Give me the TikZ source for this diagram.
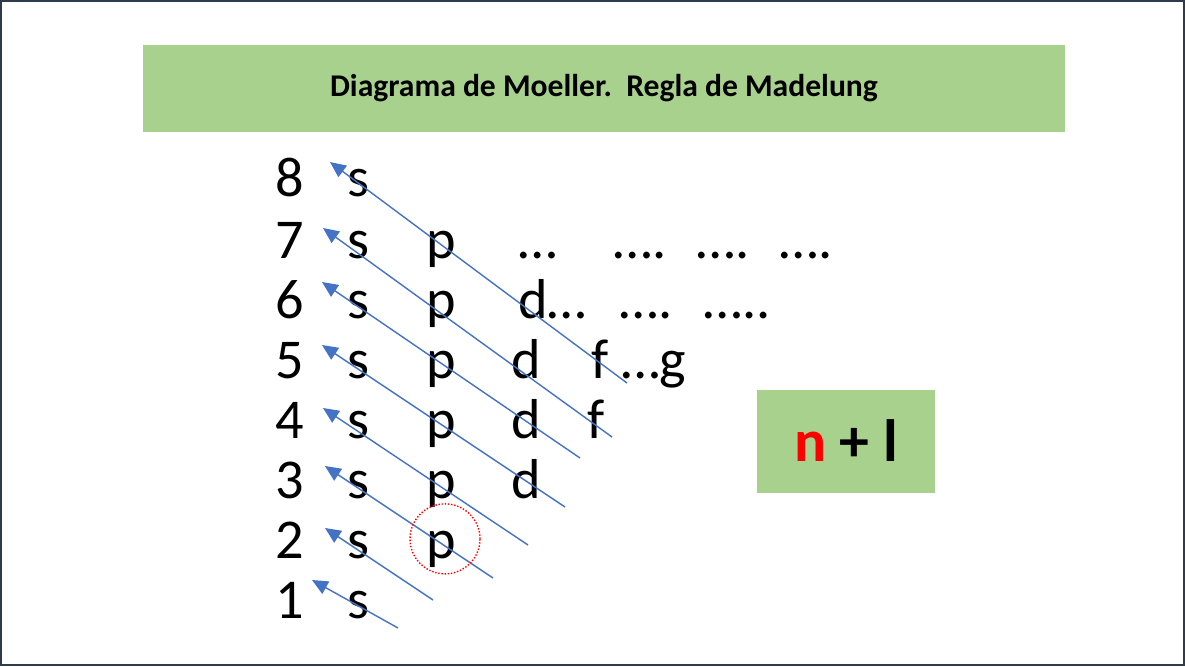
\documentclass[tikz,border=0pt]{standalone}
\usepackage{fontspec}
\setmainfont{Carlito}
\usetikzlibrary{arrows.meta}
\definecolor{boxgreen}{HTML}{A9D18E}
\definecolor{arrowblue}{HTML}{4472C4}
\definecolor{framecol}{HTML}{2F3B4C}
\begin{document}
\begin{tikzpicture}[x=0.02cm,y=-0.02cm,
  lvl/.style={font=\fontsize{32}{32}\selectfont,anchor=base},
  orb/.style={font=\fontsize{32}{32}\selectfont,anchor=base},
  diag/.style={arrowblue,thick,-{Triangle[length=9pt,width=8pt]}}]
  \draw[framecol,line width=1pt] (1,1) rectangle (1184,665);
  \useasboundingbox (0,0) rectangle (1185,666);
  \node[fill=boxgreen,minimum width=922*0.02cm,minimum height=87*0.02cm] (title) at (604,88.5)
    {\fontsize{18}{18}\selectfont\bfseries Diagrama de Moeller.\ \ Regla de Madelung};
  \node[fill=boxgreen,minimum width=178*0.02cm,minimum height=103*0.02cm] (rule) at (846,441)
    {\fontsize{34}{34}\selectfont\bfseries\textcolor{red}{n} + l};
  % shells
  \foreach \n/\y in {8/196,7/258,6/318,5/378,4/438,3/498,2/558,1/618}
    \node[lvl] (n\n) at (290,\y) {\n};
  \foreach \n/\y in {8/196,7/258,6/318,5/378,4/438,3/498,2/558,1/618}
    \node[orb] (s\n) at (358,\y) {s};
  \foreach \n/\y in {7/258,6/318,5/378,4/438,3/498,2/558}
    \node[orb] (p\n) at (441,\y) {p};
  \foreach \n/\y in {5/378,4/438,3/498}
    \node[orb] (d\n) at (526,\y) {d};
  \node[orb] (f4) at (596,438) {f};
  \node[orb,anchor=base west] (f5) at (585,378) {f …g};
  \node[orb,anchor=base west] (d6) at (512,318) {d…};
  \node[orb,anchor=base west] (e6a) at (613,318) {….};
  \node[orb,anchor=base west] (e6b) at (697,318) {…..};
  \node[orb,anchor=base west] (e7a) at (512,258) {…};
  \node[orb,anchor=base west] (e7b) at (607,258) {….};
  \node[orb,anchor=base west] (e7c) at (690,258) {….};
  \node[orb,anchor=base west] (e7d) at (773,258) {….};
  % diagonals
  \foreach \i/\xa/\ya/\xb/\yb in {1/398/628/312/580,2/433/600/325/528,3/493/578/325/466,
      4/528/545/323/408,5/565/507/322/345,6/580/458/322/282,7/612/437/323/228,8/627/383/330/162} {
    \coordinate (a\i) at (\xa,\ya);
    \coordinate (b\i) at (\xb,\yb);
    \draw[diag] (a\i) -- (b\i);
  }
  \draw[red,densely dotted,thick] (p2.center) ++(4,-10) circle (35*0.02cm);
\end{tikzpicture}
\end{document}
